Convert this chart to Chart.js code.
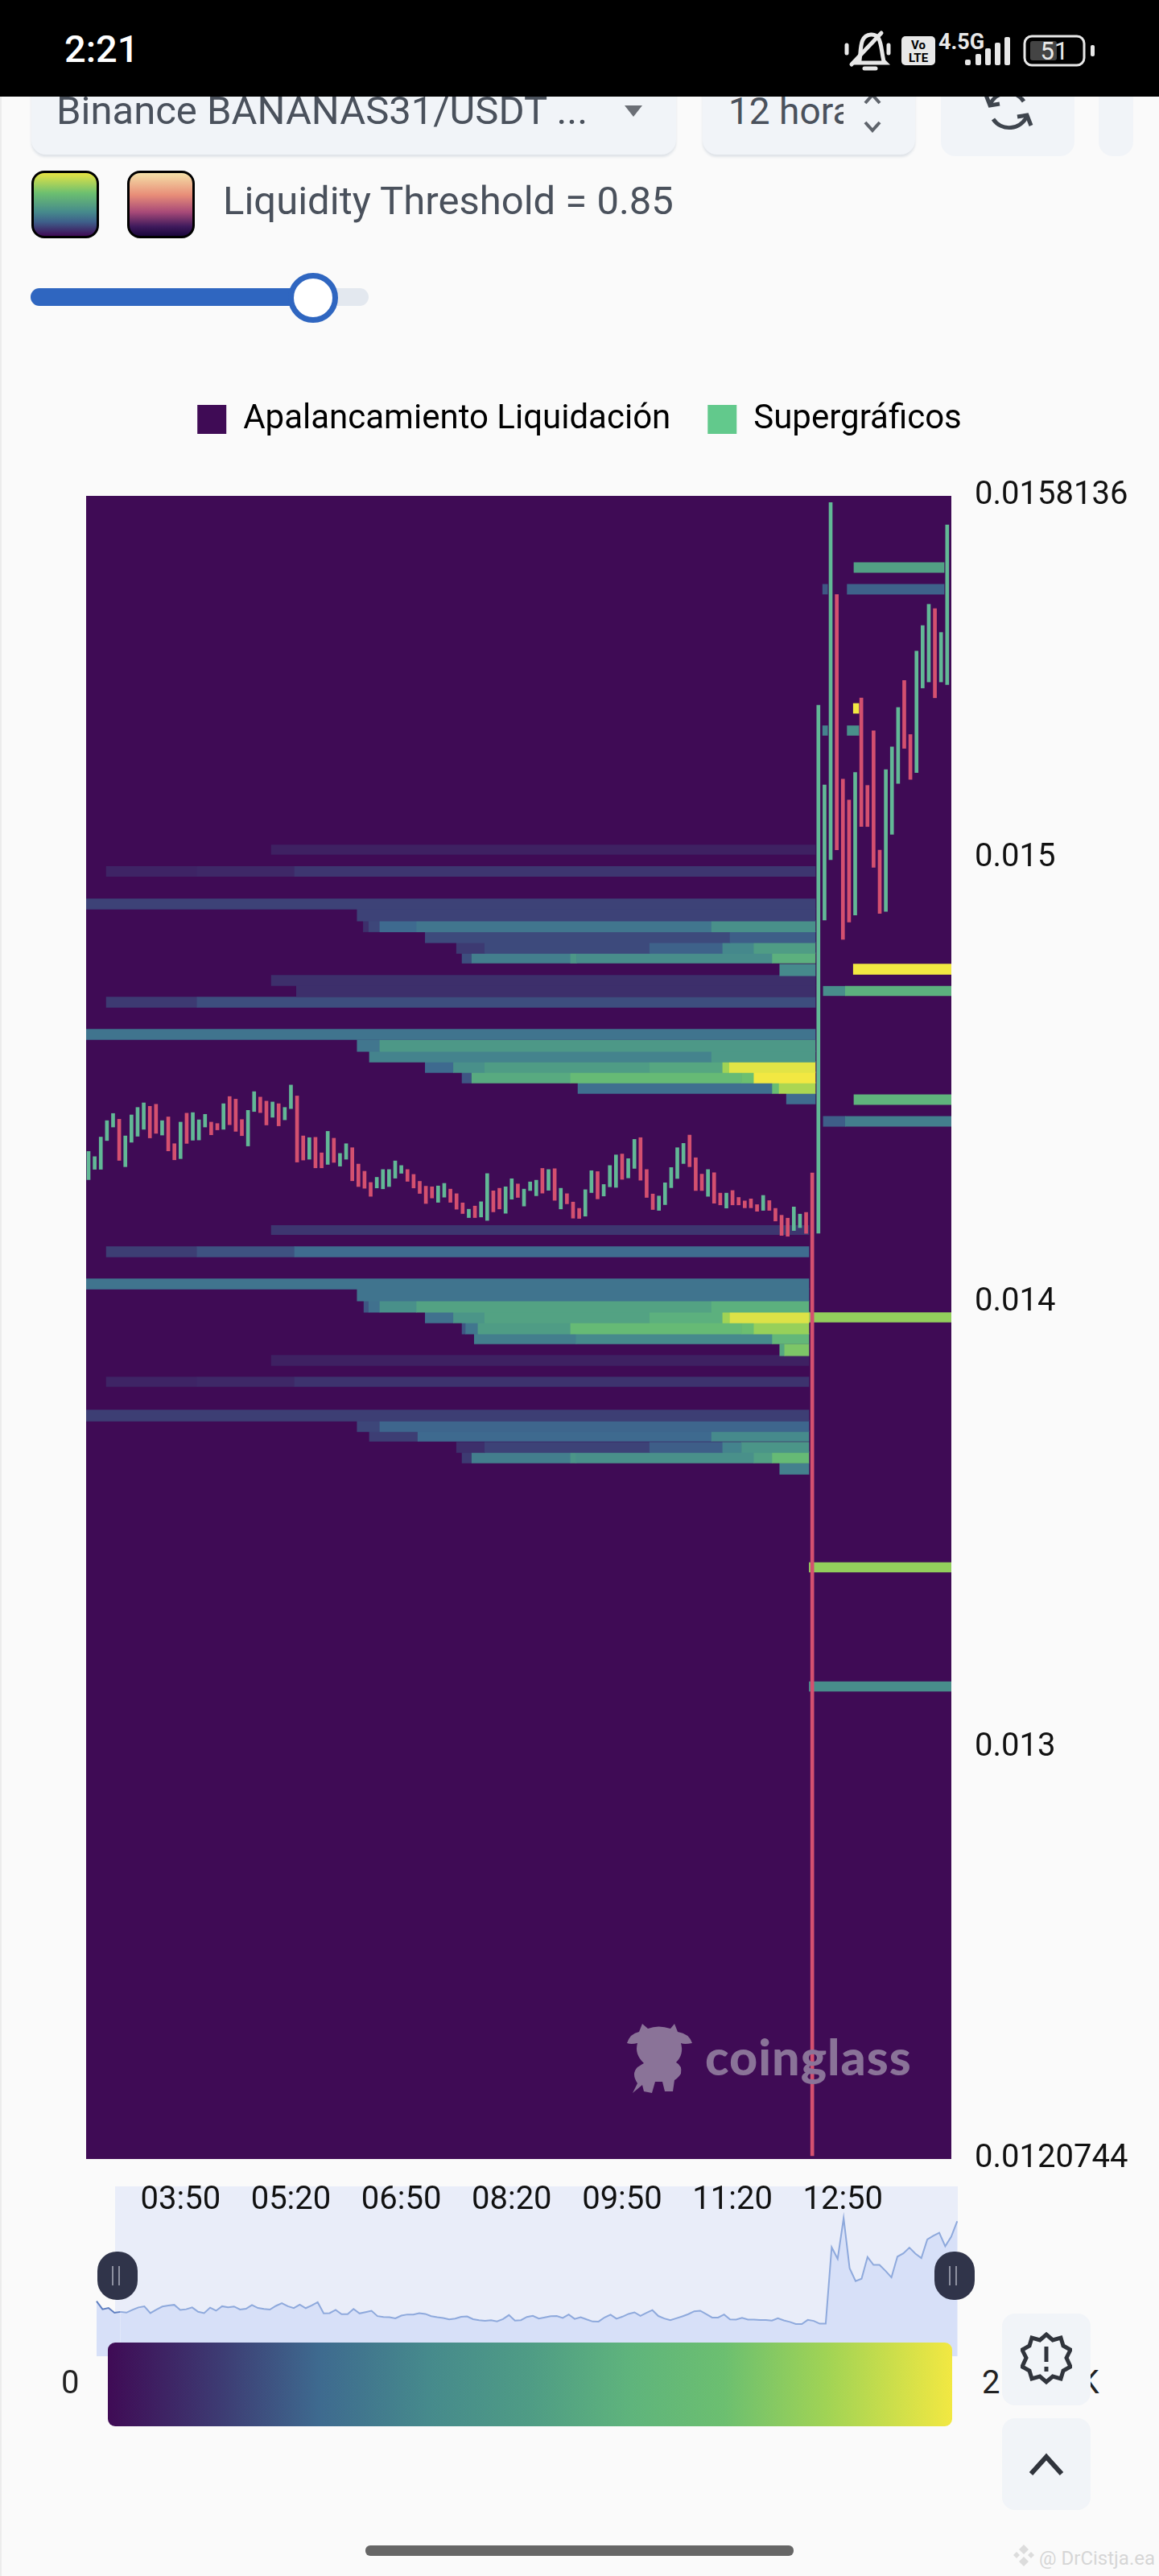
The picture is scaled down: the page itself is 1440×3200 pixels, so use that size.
<!DOCTYPE html>
<html>
<head>
<meta charset="utf-8">
<title>Liquidation heatmap</title>
<script src="https://cdn.jsdelivr.net/npm/chart.js@4/dist/chart.umd.min.js"></script>
<style>
html,body{margin:0;padding:0;background:#fafafa;}
body{position:relative;width:1440px;height:3200px;overflow:hidden;font-family:"Roboto",sans-serif;color:#4a515c;}
.abs{position:absolute;}
.box{position:absolute;background:#f1f4f8;}
#leftEdge{left:0;top:120px;width:2px;height:3080px;background:#ececec;}
#statusBar{left:0;top:0;width:1440px;height:120px;background:#000;z-index:9;}
#clock{left:80px;top:33px;color:#fff;font-size:47px;font-weight:500;line-height:56px;z-index:10;}
#pairBox{left:39px;top:100px;width:801px;height:92px;border-radius:0 0 18px 18px;box-shadow:0 3px 3px #dfe3e8;}
#pairText{left:70px;top:108px;font-size:49px;line-height:60px;white-space:nowrap;}
#rangeBox{left:873px;top:100px;width:264px;height:92px;border-radius:0 0 18px 18px;box-shadow:0 3px 3px #dfe3e8;}
#rangeText{left:905px;top:108px;width:143px;overflow:hidden;font-size:46px;line-height:60px;white-space:nowrap;}
#refreshBox{left:1169px;top:100px;width:166px;height:94px;border-radius:0 0 18px 18px;}
#moreBox{left:1365px;top:100px;width:43px;height:94px;border-radius:0 0 18px 18px;}
.swatch{position:absolute;top:212px;width:78px;height:78px;border:3px solid #000;border-radius:16px;}
#swatchA{left:39px;background:linear-gradient(#e6e444,#6cbf70 32%,#468a8c 62%,#3e5f8a 78%,#3f0b55);}
#swatchB{left:158px;background:linear-gradient(#f4e0a8,#e88d78 35%,#a84a78 62%,#3f1a5c 85%,#1a063c);}
#thresholdText{left:277px;top:220px;font-size:49px;line-height:60px;white-space:nowrap;}
#track{left:38px;top:358px;width:420px;height:22px;border-radius:11px;background:#e3e8ef;}
#trackFill{left:38px;top:358px;width:340px;height:22px;border-radius:11px;background:#2f66c0;}
#thumb{left:358px;top:339px;width:48px;height:48px;border:7px solid #2f66c0;border-radius:50%;background:#fff;}
#mainChart{position:absolute;left:0;top:0;z-index:2;}
#previewChart{position:absolute;left:117px;top:2716px;z-index:1;}
#previewWindow{left:143px;top:2716px;width:1047px;height:211px;background:#e9edf9;}
#watermark{left:876px;top:2513px;font-family:"Lato",sans-serif;font-weight:900;font-size:61px;line-height:84px;color:#8a7398;z-index:3;letter-spacing:1px;}
#cow{left:778px;top:2510px;z-index:3;}
.handle{position:absolute;top:2797px;width:50px;height:60px;border-radius:24px;background:#30344a;z-index:3;}
.handle:before{content:"";position:absolute;left:18px;top:18px;width:10px;height:24px;border-left:2px solid #8d90a0;border-right:2px solid #8d90a0;box-sizing:border-box;}
#colorBar{left:134px;top:2910px;width:1049px;height:104px;border-radius:9px;z-index:3;}
#barMin{left:76px;top:2936px;font-size:40px;line-height:48px;color:#222;z-index:3;}
#barMax{left:1220px;top:2936px;font-size:40px;line-height:48px;color:#222;z-index:3;letter-spacing:4px;white-space:nowrap;}
#helpBtn{left:1245px;top:2874px;width:110px;height:114px;border-radius:16px;z-index:4;}
#topBtn{left:1245px;top:3004px;width:110px;height:114px;border-radius:16px;z-index:4;}
#homeBar{left:454px;top:3162px;width:532px;height:13px;border-radius:6px;background:#666;}
#credit{left:1291px;top:3160px;font-size:24px;line-height:36px;color:#d6d6d6;white-space:nowrap;}
</style>
</head>
<body>
<div class="abs" id="leftEdge"></div>
<div class="abs" id="statusBar"></div>
<div class="abs" id="clock">2:21</div>
<svg class="abs" style="left:1030px;top:20px;z-index:10" width="360" height="90" viewBox="0 0 360 90">
  <g fill="none" stroke="#e8e8e8" stroke-width="5" stroke-linecap="round">
    <path d="M38 55 C40 40 38 24 52 23 C66 22 64 40 68 56 L70 58 H31 Z"/>
    <path d="M28 60 L65 21"/>
    <path d="M22 36V46M74 36V46"/>
    <path d="M44 65H58"/>
  </g>
  <rect x="90" y="25" width="42" height="36" rx="5" fill="#e8e8e8"/>
  <text x="111" y="41" text-anchor="middle" font-family="Roboto" font-size="15" font-weight="700" fill="#000">Vo</text>
  <text x="111" y="57" text-anchor="middle" font-family="Roboto" font-size="15" font-weight="700" fill="#000">LTE</text>
  <text x="136" y="41" font-family="Roboto" font-size="27" font-weight="700" fill="#e8e8e8">4.5G</text>
  <g fill="#e8e8e8">
    <rect x="169" y="54" width="7" height="7" rx="2"/>
    <rect x="182" y="47" width="7" height="14" rx="2"/>
    <rect x="194" y="40" width="7" height="21" rx="2"/>
    <rect x="206" y="33" width="7" height="28" rx="2"/>
    <rect x="218" y="26" width="7" height="35" rx="2"/>
  </g>
  <rect x="243" y="25" width="74" height="36" rx="9" fill="none" stroke="#e8e8e8" stroke-width="3"/>
  <rect x="250" y="31" width="33" height="24" rx="3" fill="#444"/>
  <text x="280" y="54" text-anchor="middle" font-family="Roboto" font-size="31" fill="#e8e8e8">51</text>
  <rect x="325" y="36" width="5" height="14" rx="2" fill="#e8e8e8"/>
</svg>

<div class="box" id="pairBox"></div>
<div class="abs" id="pairText">Binance BANANAS31/USDT ...</div>
<svg class="abs" style="left:776px;top:131px" width="22" height="14"><path d="M0 0H22L11 14Z" fill="#6b6f76"/></svg>
<div class="box" id="rangeBox"></div>
<div class="abs" id="rangeText">12 horas</div>
<svg class="abs" style="left:1072px;top:112px" width="24" height="56" fill="none" stroke="#5f646c" stroke-width="4"><path d="M3 16L12 6L21 16M3 40L12 50L21 40"/></svg>
<div class="box" id="refreshBox"></div>
<svg class="abs" style="left:1222px;top:106px" width="62" height="62" fill="none" stroke="#3f454e" stroke-width="5"><path d="M8 24A24 24 0 0 1 50 20M54 38A24 24 0 0 1 12 42"/><path d="M3 12L8 25L20 23M59 50L54 37L42 39"/></svg>
<div class="box" id="moreBox"></div>

<div class="swatch" id="swatchA"></div>
<div class="swatch" id="swatchB"></div>
<div class="abs" id="thresholdText">Liquidity Threshold = 0.85</div>
<div class="abs" id="track"></div>
<div class="abs" id="trackFill"></div>
<div class="abs" id="thumb"></div>

<div class="abs" id="previewWindow"></div>
<canvas id="previewChart" width="1073" height="211"></canvas>
<canvas id="mainChart" width="1440" height="2800"></canvas>

<svg class="abs" id="cow" width="84" height="96" viewBox="0 0 84 96" fill="#8a7398">
  <path d="M16 14 L20 4 L27 10 Q40 5 55 10 L60 4 L64 14 Q78 16 82 28 Q72 30 68 28 Q72 42 62 52 Q70 56 68 66 Q64 72 60 74 L58 88 H48 L45 76 H36 L32 90 L22 88 L20 80 L8 90 L14 78 Q6 66 14 58 Q20 54 22 53 Q10 42 14 28 Q6 30 1 28 Q5 16 16 14Z"/>
</svg>
<div class="abs" id="watermark">coinglass</div>

<div class="handle" style="left:121px"></div>
<div class="handle" style="left:1161px"></div>
<div class="abs" id="colorBar"></div>
<div class="abs" id="barMin">0</div>
<div class="abs" id="barMax">25.17K</div>
<div class="box" id="helpBtn"></div>
<svg class="abs" style="left:1268px;top:2896px;z-index:5" width="64" height="68" fill="none" stroke="#30343c" stroke-width="5"><path d="M32 4L40 11L50 8L53 18L62 23L57 33L62 44L53 49L50 59L40 56L32 63L24 56L14 59L11 49L2 44L7 33L2 23L11 18L14 8L24 11Z"/><path d="M32 19V38M32 44V50"/></svg>
<div class="box" id="topBtn"></div>
<svg class="abs" style="left:1278px;top:3047px;z-index:5" width="44" height="30" fill="none" stroke="#30343c" stroke-width="6"><path d="M3 26L22 5L41 26"/></svg>
<div class="abs" id="homeBar"></div>
<svg class="abs" style="left:1257px;top:3160px" width="30" height="30" fill="#dcdcdc"><path d="M15 1L21 7L15 13L9 7ZM6 10L10 14L6 18L2 14ZM24 10L28 14L24 18L20 14ZM15 16L21 22L15 28L9 22Z"/></svg>
<div class="abs" id="credit">@ DrCistja.ea</div>

<script>
// Price axis
const yMin = 0.0120744;
const yMax = 0.0158136;
const yTicks = [0.0158136, 0.015, 0.014, 0.013, 0.0120744];

// Time axis, in 5 minute candles from the left of the chart
const xMin = -0.394;
const xMax = 140.68;
const xTickPositions = [15, 33, 51, 69, 87, 105, 123];
const xTickLabels = ['03:50', '05:20', '06:50', '08:20', '09:50', '11:20', '12:50'];

const legendNames = ['Apalancamiento Liquidación', 'Supergráficos'];
const legendColors = ['#3f0b55', '#62c98c'];

// Candles, one value per 5 minutes
const candleOpen = [
  0.0142763,0.0142996,0.0142996,0.0143642,0.0143946,0.0144121,0.0143054,0.0143604,0.0143739,0.0143895,
  0.0144412,0.0144457,0.0143765,0.0144173,0.0143571,0.0143235,0.0144257,0.0143649,0.0143655,0.0143946,
  0.0144056,0.0144024,0.0143895,0.0144631,0.0144573,0.0144114,0.0143520,0.0144295,0.0144619,0.0144528,
  0.0144166,0.0144470,0.0144108,0.0144360,0.0144644,0.0143746,0.0143222,0.0143714,0.0143365,0.0143106,
  0.0143694,0.0143067,0.0143222,0.0143481,0.0143113,0.0142951,0.0142699,0.0142576,0.0142557,0.0142608,
  0.0142796,0.0142906,0.0142990,0.0142880,0.0142725,0.0142615,0.0142602,0.0142253,0.0142369,0.0142550,
  0.0142447,0.0142240,0.0141910,0.0142169,0.0141923,0.0141846,0.0142511,0.0142569,0.0142007,0.0142324,
  0.0142666,0.0142169,0.0142518,0.0142401,0.0143016,0.0142524,0.0143009,0.0142104,0.0142447,0.0142259,
  0.0142117,0.0141942,0.0142472,0.0142944,0.0142395,0.0142602,0.0142589,0.0143339,0.0142802,0.0143016,
  0.0143707,0.0142990,0.0142440,0.0142072,0.0142201,0.0142582,0.0142789,0.0143125,0.0143765,0.0143255,
  0.0142886,0.0142388,0.0142919,0.0142460,0.0142124,0.0142518,0.0142363,0.0142285,0.0142330,0.0142201,
  0.0142072,0.0142292,0.0142117,0.0141962,0.0141897,0.0141619,0.0141684,0.0142026,0.0142912,0.0141558,
  0.0148601,0.0149958,0.0155918,0.0151768,0.0151296,0.0148711,0.0153591,0.0151626,0.0152854,0.0150171,
  0.0148795,0.0150527,0.0151671,0.0153985,0.0152770,0.0151917,0.0153817,0.0153953,0.0155601,0.0153953,
  0.0153895
];
const candleClose = [
  0.0143397,0.0143280,0.0143720,0.0144089,0.0144250,0.0143196,0.0143746,0.0144218,0.0144386,0.0144489,
  0.0143701,0.0143804,0.0144089,0.0143410,0.0143209,0.0144056,0.0143578,0.0144270,0.0144108,0.0144231,
  0.0143772,0.0143882,0.0144470,0.0143998,0.0143849,0.0143752,0.0144321,0.0144741,0.0144270,0.0143992,
  0.0144509,0.0143972,0.0144386,0.0144890,0.0143158,0.0143203,0.0143707,0.0143028,0.0143028,0.0143849,
  0.0143151,0.0143352,0.0143571,0.0142738,0.0142608,0.0142569,0.0142388,0.0142815,0.0142990,0.0142990,
  0.0143184,0.0143080,0.0142725,0.0142576,0.0142453,0.0142227,0.0142350,0.0142621,0.0142679,0.0142253,
  0.0142098,0.0142001,0.0142098,0.0141910,0.0142266,0.0142899,0.0142039,0.0142104,0.0142602,0.0142783,
  0.0142363,0.0142550,0.0142712,0.0142750,0.0142460,0.0142990,0.0142298,0.0142569,0.0142220,0.0141897,
  0.0141891,0.0142537,0.0142964,0.0142330,0.0142654,0.0143080,0.0143319,0.0142770,0.0143235,0.0143668,
  0.0142750,0.0142363,0.0142091,0.0142395,0.0142692,0.0143035,0.0143481,0.0143578,0.0143054,0.0142518,
  0.0142518,0.0142990,0.0142233,0.0142195,0.0142460,0.0142195,0.0142195,0.0142130,0.0142130,0.0142052,
  0.0142408,0.0142072,0.0141833,0.0141509,0.0141490,0.0142149,0.0141988,0.0141555,0.0120816,0.0153430,
  0.0151639,0.0157986,0.0150178,0.0148164,0.0148555,0.0151917,0.0150702,0.0150702,0.0149784,0.0148749,
  0.0151981,0.0152492,0.0153378,0.0152460,0.0151762,0.0154645,0.0155220,0.0155698,0.0153597,0.0155065,
  0.0157482
];

// The range slider shows a little history before the chart's first candle
const previewLead = [0.0145050, 0.0143800, 0.0144000, 0.0143250];

// Liquidity heatmap: one entry per price band. heatCuts are the candle positions
// where the colour changes, heatValues the share of the colour scale between them.
const heatPrice = [
  0.0150182,0.0149693,0.0148960,0.0148716,0.0148462,0.0148218,0.0147974,0.0147747,0.0147476,0.0147241,
  0.0147005,0.0146752,0.0146028,0.0145775,0.0145530,0.0145295,0.0145060,0.0144824,0.0144589,
  0.0141630,0.0141141,0.0140417,0.0140173,0.0139911,0.0139666,0.0139422,0.0139187,0.0138933,0.0138698,
  0.0138218,0.0137458,0.0137223,0.0136997,0.0136743,0.0136517,0.0136264,
  0.0156525,0.0156037,0.0156037,0.0153358,0.0152860,0.0152860,0.0147494,0.0147005,0.0144562,0.0144073,
  0.0139666,0.0134046,0.0131368
];
const heatSpan = [
  0.0000205,0.0000210,0.0000220,0.0000271,0.0000245,0.0000250,0.0000245,0.0000225,0.0000250,0.0000225,
  0.0000250,0.0000220,0.0000220,0.0000250,0.0000240,0.0000240,0.0000240,0.0000240,0.0000240,
  0.0000195,0.0000220,0.0000220,0.0000271,0.0000250,0.0000240,0.0000250,0.0000225,0.0000250,0.0000220,
  0.0000205,0.0000240,0.0000240,0.0000225,0.0000220,0.0000240,0.0000240,
  0.0000215,0.0000210,0.0000210,0.0000210,0.0000205,0.0000205,0.0000220,0.0000200,0.0000215,0.0000215,
  0.0000205,0.0000205,0.0000205
];
const heatCuts = [
  [29.8,118.5],
  [2.9,17.7,33.6,118.5],
  [-0.4,118.5],
  [43.8,118.5],
  [44.8,45.7,47.5,53.5,101.6,118.5],
  [54.9,104.6,118.5],
  [60,64.6,91.5,103.4,108.5,118.5],
  [60.9,62.5,78.6,79.6,111.5,118.5],
  [112.7,118.5],
  [29.8,118.5],
  [33.9,118.5],
  [2.9,17.7,118.5],
  [-0.4,118.5],
  [43.8,47.5,118.5],
  [45.8,101.6,118.5],
  [54.9,59.5,64.6,91.5,103.4,104.5,118.5],
  [60.9,62.5,78.6,106.5,108.5,118.5],
  [79.8,111.5,112.6,118.5],
  [113.8,118.5],
  [29.8,117.45],
  [2.9,17.7,33.6,117.45],
  [-0.4,117.45],
  [43.8,117.45],
  [44.9,45.7,47.5,53.5,101.6,117.45],
  [54.9,59.5,64.6,91.5,103.4,104.6,117.45],
  [60.9,61.5,63.5,78.6,106.5,108.5,117.45],
  [62.9,79.5,111.5,117.45],
  [112.7,113.5,117.45],
  [29.8,117.45],
  [2.9,17.7,33.6,117.45],
  [-0.4,117.45],
  [43.8,47.5,117.45],
  [45.8,53.7,101.6,117.45],
  [60,64.6,91.5,103.4,106.5,117.45],
  [60.9,62.5,78.6,79.5,108.5,111.5,117.45],
  [112.7,117.45],
  [124.8,139.5],
  [119.7,120.5],
  [123.7,139.5],
  [124.7,125.6],
  [119.7,120.5],
  [123.7,125.6],
  [124.7,140.7],
  [119.8,123.4,140.7],
  [124.8,140.7],
  [119.8,123.4,140.7],
  [117.5,140.7],
  [117.5,140.7],
  [117.5,140.7]
];
const heatValues = [
  [.06],
  [.07,.08,.12],
  [.15],
  [.15],
  [.10,.16,.25,.30,.42],
  [.17,.22],
  [.13,.17,.23,.37,.5],
  [.18,.33,.46,.40,.6],
  [.38],
  [.1],
  [.1],
  [.13,.18],
  [.29],
  [.3,.47],
  [.35,.47],
  [.25,.42,.5,.55,.85,.97],
  [.2,.57,.68,.73,1],
  [.27,.7,.87],
  [.26],
  [.12],
  [.14,.19,.26],
  [.29],
  [.29],
  [.2,.28,.42,.53,.6],
  [.28,.45,.53,.6,.85,.96],
  [.2,.3,.5,.68,.72,.83],
  [.33,.38,.65],
  [.55,.77],
  [.06],
  [.07,.08,.11],
  [.14],
  [.16,.24],
  [.14,.25,.38],
  [.1,.15,.22,.35,.45],
  [.13,.33,.45,.42,.52,.68],
  [.34],
  [.52],
  [.2],
  [.23],
  [1],
  [.35],
  [.42],
  [1],
  [.4,.6],
  [.62],
  [.22,.33],
  [.82],
  [.82],
  [.4]
];

// Colour scale, same stops as the bar under the chart
const scaleStops = [0, .13, .25, .38, .5, .62, .73, .85, 1];
const scaleColors = ['#3f0b55', '#3d3a72', '#3e6a8f', '#468a8c', '#4f9c85', '#5fb47c', '#6cbf70', '#a0d355', '#f2e842'];

const PLOT_HEIGHT = 2066;
const candleUpColor = '#62b896';
const candleDownColor = '#d4506f';

function hexToRgb(hex) {
    return [1, 3, 5].map(i => parseInt(hex.slice(i, i + 2), 16));
}

function valueColor(v) {
    let i = 0;
    while (i < scaleStops.length - 2 && v > scaleStops[i + 1]) i++;
    const t = (v - scaleStops[i]) / (scaleStops[i + 1] - scaleStops[i]);
    const a = hexToRgb(scaleColors[i]);
    const b = hexToRgb(scaleColors[i + 1]);
    const c = a.map((n, k) => Math.round(n + (b[k] - n) * t));
    return `rgb(${c[0]},${c[1]},${c[2]})`;
}

document.getElementById('colorBar').style.background =
    'linear-gradient(90deg,' + scaleColors.map((c, i) => `${c} ${scaleStops[i] * 100}%`).join(',') + ')';

const candles = {
    type: 'bar',
    order: 1,
    grouped: false,
    barThickness: 4,
    data: candleOpen.map((o, i) => ({x: i, y: [o, candleClose[i]]})),
    backgroundColor: candleOpen.map((o, i) => candleClose[i] >= o ? candleUpColor : candleDownColor)
};

// Each price band is a row of horizontal floating bars, a little over its span so neighbours touch
const heatRows = heatPrice.map((price, r) => ({
    type: 'bar',
    order: 2,
    indexAxis: 'y',
    grouped: false,
    barThickness: heatSpan[r] / (yMax - yMin) * PLOT_HEIGHT + 0.6,
    data: heatValues[r].map((v, k) => ({x: [heatCuts[r][k], heatCuts[r][k + 1]], y: price})),
    backgroundColor: heatValues[r].map(valueColor)
}));

const plotBackground = {
    id: 'plotBackground',
    beforeUpdate(chart) {
        // keep the legend's gap above the plot
        if (!chart.legend._fitPatched) {
            const fit = chart.legend.fit;
            chart.legend.fit = function() {
                fit.call(this);
                this.height = 162;
            };
            chart.legend._fitPatched = true;
        }
    },
    beforeDatasetsDraw(chart) {
        const {ctx, chartArea: a} = chart;
        ctx.save();
        ctx.fillStyle = legendColors[0];
        ctx.fillRect(a.left, a.top, a.right - a.left, a.bottom - a.top);
        ctx.restore();
    }
};

new Chart(document.getElementById('mainChart'), {
    type: 'bar',
    data: {datasets: [candles, ...heatRows]},
    plugins: [plotBackground],
    options: {
        responsive: false,
        animation: false,
        devicePixelRatio: 1,
        layout: {autoPadding: false, padding: {top: 454, left: 0, right: 0, bottom: 0}},
        plugins: {
            tooltip: {enabled: false},
            legend: {
                display: true,
                position: 'top',
                onClick: null,
                labels: {
                    boxWidth: 36,
                    boxHeight: 36,
                    padding: 46,
                    color: '#3f4650',
                    font: {family: 'Roboto', size: 42},
                    generateLabels: () => legendNames.map((text, i) => ({
                        text,
                        fillStyle: legendColors[i],
                        strokeStyle: legendColors[i],
                        lineWidth: 0,
                        hidden: false,
                        datasetIndex: i
                    }))
                }
            }
        },
        scales: {
            x: {
                type: 'linear',
                position: 'bottom',
                offset: false,
                min: xMin,
                max: xMax,
                grid: {display: false, drawTicks: false},
                border: {display: false},
                afterBuildTicks: s => { s.ticks = xTickPositions.map(value => ({value})); },
                afterFit: s => { s.height = 118; },
                ticks: {
                    autoSkip: false,
                    maxRotation: 0,
                    padding: 28,
                    color: '#111',
                    font: {family: 'Roboto', size: 40},
                    callback: v => xTickLabels[xTickPositions.indexOf(v)]
                }
            },
            y: {
                type: 'linear',
                position: 'right',
                offset: false,
                min: yMin,
                max: yMax,
                grid: {display: false, drawTicks: false},
                border: {display: false},
                afterBuildTicks: s => { s.ticks = yTicks.map(value => ({value})); },
                afterFit: s => { s.width = 258; },
                ticks: {
                    autoSkip: false,
                    padding: 29,
                    color: '#111',
                    font: {family: 'Roboto', size: 40},
                    callback: v => String(v)
                }
            },
            // empty axis that holds the left margin, so the legend stays centred on the page
            leftGutter: {
                type: 'linear',
                position: 'left',
                display: true,
                grid: {display: false, drawTicks: false},
                border: {display: false},
                ticks: {display: false},
                afterFit: s => { s.width = 107; }
            }
        }
    }
});

// Range slider preview: closes of the same candles, the long spike candle holds the previous close
const previewPoints = previewLead.map((p, i) => ({x: i - previewLead.length, y: p}))
    .concat(candleClose.map((c, i) => ({x: i, y: i === 118 ? candleClose[117] : c})));

new Chart(document.getElementById('previewChart'), {
    type: 'line',
    data: {
        datasets: [{
            data: previewPoints,
            borderColor: '#8ea9dc',
            borderWidth: 2,
            pointRadius: 0,
            tension: 0,
            fill: 'start',
            backgroundColor: '#d7e0f8',
            segment: {
                borderColor: ctx => ctx.p0.parsed.x < 0 ? '#5f7fc0' : undefined
            }
        }]
    },
    options: {
        responsive: false,
        animation: false,
        devicePixelRatio: 1,
        layout: {padding: 0},
        plugins: {legend: {display: false}, tooltip: {enabled: false}},
        scales: {
            x: {type: 'linear', display: false, min: -4.4, max: 140.1},
            y: {type: 'linear', display: false, min: 0.01365, max: 0.01629}
        }
    }
});
</script>
</body>
</html>
